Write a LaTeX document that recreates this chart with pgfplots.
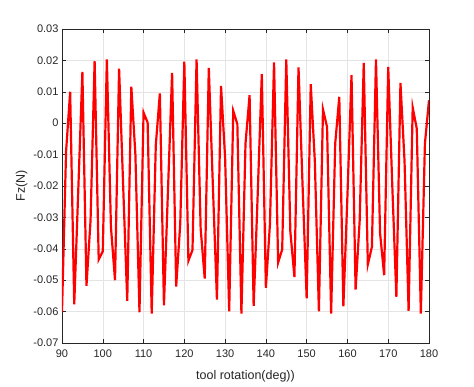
\documentclass[border=0pt]{standalone}
\usepackage{pgfplots}
\pgfplotsset{compat=1.18}
\usepackage{fontspec}
\setmainfont{Liberation Sans}
\pgfplotstableread{
x y
90 -0.0600
91 -0.0090
92 0.0100
93 -0.0577
94 -0.0210
95 0.0163
96 -0.0518
97 -0.0310
98 0.0198
99 -0.0434
100 -0.0408
101 0.0203
102 -0.0330
103 -0.0500
104 0.0174
105 -0.0200
106 -0.0566
107 0.0116
108 -0.0100
109 -0.0602
110 0.0034
111 0.0002
112 -0.0606
113 -0.0070
114 0.0095
115 -0.0580
116 -0.0210
117 0.0160
118 -0.0520
119 -0.0320
120 0.0196
121 -0.0438
122 -0.0404
123 0.0203
124 -0.0335
125 -0.0495
126 0.0176
127 -0.0200
128 -0.0562
129 0.0119
130 -0.0110
131 -0.0599
132 0.0039
133 -0.0003
134 -0.0606
135 -0.0065
136 0.0089
137 -0.0582
138 -0.0224
139 0.0156
140 -0.0524
141 -0.0320
142 0.0194
143 -0.0444
144 -0.0402
145 0.0203
146 -0.0345
147 -0.0490
148 0.0178
149 -0.0200
150 -0.0558
151 0.0124
152 -0.0120
153 -0.0599
154 0.0044
155 -0.0012
156 -0.0606
157 -0.0065
158 0.0084
159 -0.0583
160 -0.0230
161 0.0153
162 -0.0530
163 -0.0310
164 0.0192
165 -0.0450
166 -0.0394
167 0.0203
168 -0.0350
169 -0.0484
170 0.0179
171 -0.0200
172 -0.0553
173 0.0128
174 -0.0120
175 -0.0598
176 0.0050
177 -0.0017
178 -0.0606
179 -0.0065
180 0.0073
}\fz
\definecolor{axgray}{RGB}{38,38,38}
\definecolor{gridgray}{RGB}{228,228,228}
\begin{document}
\begin{tikzpicture}
\begin{axis}[
  scale only axis,
  width=367pt, height=314pt,
  at={(0,0)}, anchor=south west,
  xmin=90, xmax=180, ymin=-0.07, ymax=0.03,
  xtick={90,100,...,180},
  ytick={-0.07,-0.06,-0.05,-0.04,-0.03,-0.02,-0.01,0,0.01,0.02,0.03},
  yticklabels={-0.07,-0.06,-0.05,-0.04,-0.03,-0.02,-0.01,0,0.01,0.02,0.03},
  scaled y ticks=false,
  /pgf/number format/assume math mode=true,
  tick label style={font=\fontsize{11}{13}\selectfont, text=axgray},
  xticklabel style={yshift=-3pt},
  label style={font=\fontsize{12.5}{14}\selectfont, text=axgray},
  xlabel={tool rotation(deg))},
  ylabel={Fz(N)},
  xlabel style={yshift=-6pt},
  ylabel style={yshift=-1pt},
  axis line style={axgray, line width=0.6pt},
  tick style={axgray, line width=0.5pt},
  major tick length=4pt,
  tick align=inside,
  xtick pos=both, ytick pos=both,
  grid=major,
  major grid style={gridgray, line width=0.5pt},
]
\addplot[red, line width=2.2pt, line join=miter, miter limit=10] table[x=x,y=y] {\fz};
\end{axis}
\path[use as bounding box] (-62pt,-44pt) rectangle (412pt,343pt);
\end{tikzpicture}
\end{document}
